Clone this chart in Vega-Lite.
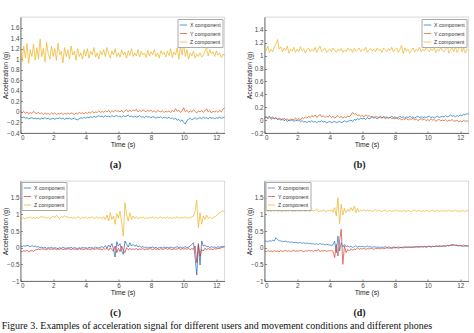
{
"$schema":"https://vega.github.io/schema/vega-lite/v6.json",
"background":"white",
"padding":{"left":1.5,"top":16,"right":2,"bottom":0},
"title":{"text":"Figure 3. Examples of acceleration signal for different users and movement conditions and different phones","orient":"bottom","anchor":"start","font":"Liberation Serif","fontSize":10,"fontWeight":"normal","color":"#111","offset":3,"frame":"bounds"},
"config":{
"font":"Liberation Sans",
"view":{"stroke":"#bdbdbd","strokeWidth":0.6},
"axis":{"labelFontSize":6.3,"labelColor":"#4a4a4a","titleFontSize":6.8,"titleColor":"#222","titleFontWeight":"normal","domainColor":"#444","domainWidth":0.7,"tickColor":"#444","tickSize":-2,"tickWidth":0.6,"grid":false},
"axisX":{"labelPadding":3.5,"titlePadding":1},
"axisY":{"labelPadding":3.5,"titlePadding":1.5,"minExtent":11,"maxExtent":11},
"legend":{"orient":"top-right","offset":2,"title":null,"symbolType":"stroke","symbolSize":55,"symbolStrokeWidth":0.8,"labelFontSize":5.2,"labelColor":"#333","rowPadding":0.5,"padding":1.5,"strokeColor":"#aaa","fillColor":"white","labelOffset":2,"labelLimit":100},
"line":{"strokeWidth":0.7},
"title":{"orient":"bottom","font":"Liberation Serif","fontSize":10,"fontWeight":"bold","color":"#222","offset":11}
},
"columns":2,
"spacing":{"row":48,"column":40},
"bounds":"flush",
"resolve":{"scale":{"color":"independent","x":"independent","y":"independent"},"legend":{"color":"independent"}},
"datasets":{
"a":[
{"t":0,"x":-0.09,"y":0.02,"z":1.15},{"t":0.1,"x":-0.11,"y":-0.02,"z":0.95},{"t":0.2,"x":-0.1,"y":0.01,"z":1.25},{"t":0.3,"x":-0.12,"y":-0.03,"z":1.02},{"t":0.4,"x":-0.11,"y":0,"z":1.3},{"t":0.5,"x":-0.13,"y":-0.04,"z":0.92},{"t":0.6,"x":-0.12,"y":-0.01,"z":1.18},{"t":0.7,"x":-0.11,"y":-0.03,"z":1.05},{"t":0.8,"x":-0.13,"y":0.01,"z":1.28},{"t":0.9,"x":-0.12,"y":-0.02,"z":0.98},
{"t":1,"x":-0.13,"y":-0.03,"z":1.22},{"t":1.1,"x":-0.12,"y":-0.01,"z":1.0},{"t":1.2,"x":-0.14,"y":-0.04,"z":1.38},{"t":1.3,"x":-0.12,"y":-0.02,"z":1.05},{"t":1.4,"x":-0.13,"y":-0.05,"z":1.2},{"t":1.5,"x":-0.11,"y":-0.02,"z":0.95},{"t":1.6,"x":-0.13,"y":-0.04,"z":1.32},{"t":1.7,"x":-0.12,"y":-0.03,"z":1.1},{"t":1.8,"x":-0.14,"y":-0.05,"z":1.0},{"t":1.9,"x":-0.13,"y":-0.02,"z":1.25},
{"t":2,"x":-0.12,"y":-0.04,"z":1.05},{"t":2.1,"x":-0.14,"y":-0.02,"z":1.2},{"t":2.2,"x":-0.12,"y":-0.05,"z":0.98},{"t":2.3,"x":-0.13,"y":-0.03,"z":1.3},{"t":2.4,"x":-0.11,"y":-0.04,"z":1.08},{"t":2.5,"x":-0.13,"y":-0.02,"z":1.15},{"t":2.6,"x":-0.12,"y":-0.05,"z":0.93},{"t":2.7,"x":-0.14,"y":-0.03,"z":1.22},{"t":2.8,"x":-0.12,"y":-0.04,"z":1.05},{"t":2.9,"x":-0.13,"y":-0.02,"z":1.18},
{"t":3,"x":-0.12,"y":-0.04,"z":1.0},{"t":3.1,"x":-0.14,"y":-0.02,"z":1.25},{"t":3.2,"x":-0.13,"y":-0.03,"z":1.08},{"t":3.3,"x":-0.12,"y":-0.05,"z":1.15},{"t":3.4,"x":-0.14,"y":-0.02,"z":0.98},{"t":3.5,"x":-0.15,"y":-0.04,"z":1.2},{"t":3.6,"x":-0.13,"y":-0.01,"z":1.05},{"t":3.7,"x":-0.11,"y":-0.03,"z":1.12},{"t":3.8,"x":-0.12,"y":-0.02,"z":1.0},{"t":3.9,"x":-0.1,"y":-0.04,"z":1.18},
{"t":4,"x":-0.12,"y":-0.01,"z":1.06},{"t":4.1,"x":-0.1,"y":-0.03,"z":1.2},{"t":4.2,"x":-0.11,"y":0,"z":1.02},{"t":4.3,"x":-0.09,"y":-0.02,"z":1.15},{"t":4.4,"x":-0.11,"y":0.01,"z":1.08},{"t":4.5,"x":-0.08,"y":-0.02,"z":1.22},{"t":4.6,"x":-0.1,"y":0,"z":1.04},{"t":4.7,"x":-0.09,"y":-0.01,"z":1.12},{"t":4.8,"x":-0.07,"y":0.02,"z":1.0},{"t":4.9,"x":-0.09,"y":-0.01,"z":1.16},
{"t":5,"x":-0.08,"y":0.01,"z":1.08},{"t":5.1,"x":-0.1,"y":-0.01,"z":1.18},{"t":5.2,"x":-0.07,"y":0.02,"z":1.05},{"t":5.3,"x":-0.09,"y":0,"z":1.22},{"t":5.4,"x":-0.08,"y":0.03,"z":1.1},{"t":5.5,"x":-0.1,"y":-0.01,"z":1.02},{"t":5.6,"x":-0.07,"y":0.02,"z":1.15},{"t":5.7,"x":-0.09,"y":0,"z":1.08},{"t":5.8,"x":-0.08,"y":0.03,"z":1.2},{"t":5.9,"x":-0.07,"y":0.01,"z":1.05},
{"t":6,"x":-0.09,"y":0.02,"z":1.12},{"t":6.1,"x":-0.08,"y":0,"z":1.04},{"t":6.2,"x":-0.1,"y":0.03,"z":1.18},{"t":6.3,"x":-0.07,"y":-0.01,"z":1.08},{"t":6.4,"x":-0.09,"y":0.02,"z":1.14},{"t":6.5,"x":-0.08,"y":0.04,"z":1.02},{"t":6.6,"x":-0.06,"y":0,"z":1.16},{"t":6.7,"x":-0.09,"y":0.03,"z":1.07},{"t":6.8,"x":-0.08,"y":0.01,"z":1.2},{"t":6.9,"x":-0.1,"y":0.04,"z":1.05},
{"t":7,"x":-0.08,"y":0.02,"z":1.12},{"t":7.1,"x":-0.1,"y":0.05,"z":1.06},{"t":7.2,"x":-0.09,"y":0,"z":1.18},{"t":7.3,"x":-0.07,"y":0.03,"z":1.04},{"t":7.4,"x":-0.1,"y":0.01,"z":1.15},{"t":7.5,"x":-0.09,"y":0.04,"z":1.08},{"t":7.6,"x":-0.11,"y":0.02,"z":1.12},{"t":7.7,"x":-0.08,"y":0,"z":1.03},{"t":7.8,"x":-0.1,"y":0.03,"z":1.17},{"t":7.9,"x":-0.09,"y":0.01,"z":1.06},
{"t":8,"x":-0.11,"y":0.03,"z":1.14},{"t":8.1,"x":-0.09,"y":0,"z":1.08},{"t":8.2,"x":-0.1,"y":0.02,"z":1.18},{"t":8.3,"x":-0.12,"y":-0.01,"z":1.05},{"t":8.4,"x":-0.1,"y":0.03,"z":1.12},{"t":8.5,"x":-0.11,"y":0.01,"z":1.02},{"t":8.6,"x":-0.09,"y":0,"z":1.16},{"t":8.7,"x":-0.12,"y":0.02,"z":1.09},{"t":8.8,"x":-0.1,"y":-0.01,"z":1.13},{"t":8.9,"x":-0.11,"y":0.01,"z":1.04},
{"t":9,"x":-0.12,"y":0,"z":1.15},{"t":9.1,"x":-0.1,"y":0.02,"z":1.07},{"t":9.2,"x":-0.13,"y":-0.01,"z":1.2},{"t":9.3,"x":-0.11,"y":0.03,"z":1.03},{"t":9.4,"x":-0.14,"y":0,"z":1.14},{"t":9.5,"x":-0.12,"y":0.06,"z":1.08},{"t":9.6,"x":-0.16,"y":0.01,"z":1.22},{"t":9.7,"x":-0.14,"y":0.03,"z":1.0},{"t":9.8,"x":-0.18,"y":-0.01,"z":1.25},{"t":9.9,"x":-0.15,"y":0.02,"z":1.08},
{"t":10,"x":-0.2,"y":0.08,"z":1.28},{"t":10.1,"x":-0.23,"y":0,"z":1.05},{"t":10.2,"x":-0.16,"y":0.03,"z":1.18},{"t":10.3,"x":-0.14,"y":-0.01,"z":1.0},{"t":10.4,"x":-0.12,"y":0.02,"z":1.12},{"t":10.5,"x":-0.15,"y":0,"z":1.06},{"t":10.6,"x":-0.13,"y":0.04,"z":1.15},{"t":10.7,"x":-0.11,"y":0.01,"z":1.02},{"t":10.8,"x":-0.14,"y":-0.02,"z":1.1},{"t":10.9,"x":-0.12,"y":0.02,"z":1.05},
{"t":11,"x":-0.11,"y":0,"z":1.12},{"t":11.1,"x":-0.13,"y":0.03,"z":1.04},{"t":11.2,"x":-0.1,"y":-0.01,"z":1.08},{"t":11.3,"x":-0.12,"y":0.02,"z":1.15},{"t":11.4,"x":-0.11,"y":0.06,"z":1.22},{"t":11.5,"x":-0.13,"y":0,"z":1.06},{"t":11.6,"x":-0.1,"y":0.03,"z":1.18},{"t":11.7,"x":-0.12,"y":-0.02,"z":1.1},{"t":11.8,"x":-0.11,"y":0.01,"z":1.14},{"t":11.9,"x":-0.13,"y":0,"z":1.05},
{"t":12,"x":-0.11,"y":0.02,"z":1.16},{"t":12.1,"x":-0.12,"y":-0.01,"z":1.08},{"t":12.2,"x":-0.1,"y":0.03,"z":1.12},{"t":12.3,"x":-0.12,"y":0,"z":1.03},{"t":12.4,"x":-0.11,"y":0.05,"z":1.1},{"t":12.5,"x":-0.1,"y":0.08,"z":1.06}
],
"b":[
{"t":0,"x":0.03,"y":0.03,"z":1.12},{"t":0.1,"x":0.05,"y":0.05,"z":1.08},{"t":0.2,"x":0.04,"y":0.02,"z":1.15},{"t":0.3,"x":0.06,"y":0.04,"z":1.05},{"t":0.4,"x":0.03,"y":0.01,"z":1.1},{"t":0.5,"x":0.05,"y":0.03,"z":1.06},{"t":0.6,"x":0.02,"y":0.02,"z":1.13},{"t":0.7,"x":0.04,"y":0.04,"z":1.18},{"t":0.8,"x":0.01,"y":0.01,"z":1.25},{"t":0.9,"x":0.02,"y":0.03,"z":1.1},
{"t":1,"x":0,"y":0.02,"z":1.14},{"t":1.1,"x":0.02,"y":0,"z":1.06},{"t":1.2,"x":-0.01,"y":0.03,"z":1.12},{"t":1.3,"x":0.01,"y":0.01,"z":1.08},{"t":1.4,"x":-0.02,"y":0.02,"z":1.15},{"t":1.5,"x":0,"y":-0.01,"z":1.04},{"t":1.6,"x":-0.01,"y":0.02,"z":1.1},{"t":1.7,"x":0.01,"y":0,"z":1.07},{"t":1.8,"x":-0.02,"y":0.01,"z":1.13},{"t":1.9,"x":0,"y":0.03,"z":1.05},
{"t":2,"x":-0.01,"y":0.01,"z":1.1},{"t":2.1,"x":0,"y":0.03,"z":1.06},{"t":2.2,"x":-0.02,"y":0,"z":1.14},{"t":2.3,"x":-0.01,"y":0.04,"z":1.08},{"t":2.4,"x":-0.03,"y":0.02,"z":1.11},{"t":2.5,"x":-0.02,"y":0.05,"z":1.04},{"t":2.6,"x":-0.04,"y":0.03,"z":1.09},{"t":2.7,"x":-0.02,"y":0.06,"z":1.12},{"t":2.8,"x":-0.03,"y":0.04,"z":1.06},{"t":2.9,"x":-0.01,"y":0.07,"z":1.1},
{"t":3,"x":-0.03,"y":0.05,"z":1.07},{"t":3.1,"x":-0.02,"y":0.08,"z":1.13},{"t":3.2,"x":-0.04,"y":0.04,"z":1.05},{"t":3.3,"x":-0.02,"y":0.06,"z":1.1},{"t":3.4,"x":-0.03,"y":0.09,"z":1.15},{"t":3.5,"x":-0.01,"y":0.05,"z":1.06},{"t":3.6,"x":-0.03,"y":0.07,"z":1.09},{"t":3.7,"x":-0.02,"y":0.04,"z":1.12},{"t":3.8,"x":-0.04,"y":0.06,"z":1.05},{"t":3.9,"x":-0.03,"y":0.05,"z":1.08},
{"t":4,"x":-0.02,"y":0.07,"z":1.1},{"t":4.1,"x":-0.04,"y":0.04,"z":1.06},{"t":4.2,"x":-0.03,"y":0.06,"z":1.12},{"t":4.3,"x":-0.02,"y":0.03,"z":1.08},{"t":4.4,"x":-0.04,"y":0.05,"z":1.05},{"t":4.5,"x":-0.03,"y":0.07,"z":1.1},{"t":4.6,"x":-0.02,"y":0.04,"z":1.07},{"t":4.7,"x":-0.04,"y":0.06,"z":1.11},{"t":4.8,"x":-0.03,"y":0.03,"z":1.05},{"t":4.9,"x":-0.01,"y":0.05,"z":1.09},
{"t":5,"x":-0.03,"y":0.04,"z":1.06},{"t":5.1,"x":-0.02,"y":0.06,"z":1.12},{"t":5.2,"x":-0.01,"y":0.05,"z":1.08},{"t":5.3,"x":0,"y":0.08,"z":1.1},{"t":5.4,"x":-0.02,"y":0.12,"z":1.05},{"t":5.5,"x":0.01,"y":0.09,"z":1.11},{"t":5.6,"x":0,"y":0.1,"z":1.07},{"t":5.7,"x":0.02,"y":0.07,"z":1.09},{"t":5.8,"x":0.01,"y":0.08,"z":1.12},{"t":5.9,"x":0.03,"y":0.06,"z":1.06},
{"t":6,"x":0.02,"y":0.07,"z":1.1},{"t":6.1,"x":0.03,"y":0.05,"z":1.08},{"t":6.2,"x":0.01,"y":0.08,"z":1.13},{"t":6.3,"x":0.04,"y":0.06,"z":1.05},{"t":6.4,"x":0.02,"y":0.07,"z":1.09},{"t":6.5,"x":0.03,"y":0.05,"z":1.11},{"t":6.6,"x":0.05,"y":0.06,"z":1.07},{"t":6.7,"x":0.03,"y":0.04,"z":1.1},{"t":6.8,"x":0.04,"y":0.06,"z":1.06},{"t":6.9,"x":0.02,"y":0.05,"z":1.12},
{"t":7,"x":0.04,"y":0.04,"z":1.08},{"t":7.1,"x":0.05,"y":0.06,"z":1.1},{"t":7.2,"x":0.03,"y":0.03,"z":1.05},{"t":7.3,"x":0.06,"y":0.05,"z":1.12},{"t":7.4,"x":0.04,"y":0.02,"z":1.09},{"t":7.5,"x":0.05,"y":0.04,"z":1.06},{"t":7.6,"x":0.03,"y":0.03,"z":1.11},{"t":7.7,"x":0.04,"y":0.05,"z":1.08},{"t":7.8,"x":0.06,"y":0.02,"z":1.13},{"t":7.9,"x":0.04,"y":0.03,"z":1.06},
{"t":8,"x":0.05,"y":0.02,"z":1.09},{"t":8.1,"x":0.03,"y":0.04,"z":1.12},{"t":8.2,"x":0.04,"y":0.01,"z":1.05},{"t":8.3,"x":0.06,"y":0.03,"z":1.1},{"t":8.4,"x":0.04,"y":0,"z":1.16},{"t":8.5,"x":0.05,"y":0.02,"z":1.03},{"t":8.6,"x":0.03,"y":0.01,"z":1.12},{"t":8.7,"x":0.05,"y":0.03,"z":1.07},{"t":8.8,"x":0.04,"y":0,"z":1.1},{"t":8.9,"x":0.06,"y":0.02,"z":1.04},
{"t":9,"x":0.04,"y":0.01,"z":1.08},{"t":9.1,"x":0.05,"y":0.03,"z":1.12},{"t":9.2,"x":0.03,"y":0,"z":1.06},{"t":9.3,"x":0.05,"y":0.02,"z":1.1},{"t":9.4,"x":0.06,"y":-0.01,"z":1.08},{"t":9.5,"x":0.04,"y":0.01,"z":1.13},{"t":9.6,"x":0.05,"y":0.02,"z":1.06},{"t":9.7,"x":0.03,"y":0,"z":1.1},{"t":9.8,"x":0.05,"y":0.02,"z":1.07},{"t":9.9,"x":0.04,"y":-0.01,"z":1.12},
{"t":10,"x":0.05,"y":0.01,"z":1.09},{"t":10.1,"x":0.06,"y":-0.01,"z":1.06},{"t":10.2,"x":0.04,"y":0.02,"z":1.11},{"t":10.3,"x":0.05,"y":0,"z":1.08},{"t":10.4,"x":0.03,"y":0.01,"z":1.12},{"t":10.5,"x":0.05,"y":-0.02,"z":1.05},{"t":10.6,"x":0.06,"y":0,"z":1.1},{"t":10.7,"x":0.04,"y":0.01,"z":1.07},{"t":10.8,"x":0.05,"y":-0.01,"z":1.13},{"t":10.9,"x":0.06,"y":0,"z":1.08},
{"t":11,"x":0.05,"y":-0.01,"z":1.06},{"t":11.1,"x":0.07,"y":0.01,"z":1.1},{"t":11.2,"x":0.05,"y":-0.02,"z":1.15},{"t":11.3,"x":0.06,"y":0,"z":1.04},{"t":11.4,"x":0.08,"y":-0.01,"z":1.09},{"t":11.5,"x":0.06,"y":0.01,"z":1.12},{"t":11.6,"x":0.07,"y":-0.02,"z":1.06},{"t":11.7,"x":0.05,"y":-0.01,"z":1.14},{"t":11.8,"x":0.07,"y":0,"z":1.05},{"t":11.9,"x":0.06,"y":-0.03,"z":1.1},
{"t":12,"x":0.08,"y":-0.01,"z":1.16},{"t":12.1,"x":0.07,"y":-0.03,"z":1.06},{"t":12.2,"x":0.09,"y":0,"z":1.12},{"t":12.3,"x":0.08,"y":-0.02,"z":1.04},{"t":12.4,"x":0.1,"y":-0.01,"z":1.1},{"t":12.5,"x":0.09,"y":-0.02,"z":1.08}
],
"c":[
{"t":0,"x":0.05,"y":-0.1,"z":0.92},{"t":0.1,"x":0.03,"y":-0.12,"z":0.88},{"t":0.2,"x":0.06,"y":-0.09,"z":0.9},{"t":0.3,"x":0.04,"y":-0.11,"z":0.86},{"t":0.4,"x":0.07,"y":-0.08,"z":0.91},{"t":0.5,"x":0.05,"y":-0.12,"z":0.89},{"t":0.6,"x":0.03,"y":-0.1,"z":0.93},{"t":0.7,"x":0.06,"y":-0.09,"z":0.87},{"t":0.8,"x":0.04,"y":-0.11,"z":0.9},{"t":0.9,"x":0.05,"y":-0.07,"z":0.88},
{"t":1,"x":0.02,"y":-0.06,"z":0.91},{"t":1.1,"x":0.03,"y":-0.04,"z":0.87},{"t":1.2,"x":0,"y":-0.06,"z":0.92},{"t":1.3,"x":0.02,"y":-0.03,"z":0.95},{"t":1.4,"x":-0.01,"y":-0.05,"z":0.89},{"t":1.5,"x":0.01,"y":-0.04,"z":0.93},{"t":1.6,"x":-0.02,"y":-0.06,"z":0.88},{"t":1.7,"x":0,"y":-0.03,"z":0.91},{"t":1.8,"x":-0.01,"y":-0.05,"z":0.86},{"t":1.9,"x":0.01,"y":-0.04,"z":0.9},
{"t":2,"x":-0.02,"y":-0.05,"z":0.95},{"t":2.1,"x":0,"y":-0.03,"z":0.9},{"t":2.2,"x":-0.01,"y":-0.06,"z":0.97},{"t":2.3,"x":-0.03,"y":-0.04,"z":0.92},{"t":2.4,"x":0,"y":-0.05,"z":0.88},{"t":2.5,"x":-0.02,"y":-0.03,"z":0.94},{"t":2.6,"x":0.01,"y":-0.06,"z":0.9},{"t":2.7,"x":-0.01,"y":-0.04,"z":0.96},{"t":2.8,"x":-0.02,"y":-0.05,"z":0.91},{"t":2.9,"x":0,"y":-0.03,"z":0.93},
{"t":3,"x":-0.01,"y":-0.04,"z":0.89},{"t":3.1,"x":0.01,"y":-0.06,"z":0.92},{"t":3.2,"x":-0.02,"y":-0.03,"z":0.87},{"t":3.3,"x":0,"y":-0.05,"z":0.91},{"t":3.4,"x":-0.01,"y":-0.04,"z":0.88},{"t":3.5,"x":-0.03,"y":-0.06,"z":0.93},{"t":3.6,"x":0,"y":-0.03,"z":0.9},{"t":3.7,"x":-0.02,"y":-0.05,"z":0.87},{"t":3.8,"x":0.01,"y":-0.04,"z":0.91},{"t":3.9,"x":-0.01,"y":-0.06,"z":0.89},
{"t":4,"x":0,"y":-0.03,"z":0.92},{"t":4.1,"x":-0.02,"y":-0.05,"z":0.88},{"t":4.2,"x":0.01,"y":-0.04,"z":0.91},{"t":4.3,"x":-0.01,"y":-0.06,"z":0.89},{"t":4.4,"x":0,"y":-0.03,"z":0.93},{"t":4.5,"x":-0.02,"y":-0.05,"z":0.87},{"t":4.6,"x":0.02,"y":-0.04,"z":0.9},{"t":4.7,"x":0,"y":-0.03,"z":0.92},{"t":4.8,"x":-0.01,"y":-0.05,"z":0.88},{"t":4.9,"x":0.01,"y":-0.04,"z":0.91},
{"t":5,"x":0.03,"y":-0.06,"z":0.87},{"t":5.1,"x":0,"y":-0.03,"z":0.93},{"t":5.2,"x":0.06,"y":-0.05,"z":0.84},{"t":5.3,"x":-0.02,"y":-0.02,"z":0.98},{"t":5.4,"x":0.08,"y":-0.08,"z":0.8},{"t":5.5,"x":0.02,"y":0,"z":1.05},{"t":5.6,"x":0.12,"y":-0.06,"z":0.85},{"t":5.7,"x":-0.05,"y":-0.1,"z":0.95},{"t":5.8,"x":-0.28,"y":0.05,"z":0.7},{"t":5.9,"x":0.18,"y":-0.15,"z":1.02},
{"t":6,"x":0.05,"y":-0.02,"z":0.88},{"t":6.1,"x":0.12,"y":-0.12,"z":1.1},{"t":6.2,"x":-0.1,"y":0.05,"z":0.75},{"t":6.3,"x":-0.2,"y":-0.08,"z":0.35},{"t":6.4,"x":0.2,"y":-0.15,"z":1.35},{"t":6.5,"x":0.1,"y":0,"z":1.0},{"t":6.6,"x":0.02,"y":-0.06,"z":0.8},{"t":6.7,"x":0.15,"y":-0.03,"z":1.05},{"t":6.8,"x":0.05,"y":-0.05,"z":0.85},{"t":6.9,"x":0.1,"y":-0.04,"z":0.95},
{"t":7,"x":0.04,"y":-0.05,"z":0.88},{"t":7.1,"x":0.08,"y":-0.03,"z":0.93},{"t":7.2,"x":0.02,"y":-0.06,"z":0.87},{"t":7.3,"x":0.05,"y":-0.04,"z":0.91},{"t":7.4,"x":0.01,"y":-0.05,"z":0.89},{"t":7.5,"x":0.03,"y":-0.03,"z":0.92},{"t":7.6,"x":0,"y":-0.06,"z":0.88},{"t":7.7,"x":0.02,"y":-0.04,"z":0.9},{"t":7.8,"x":-0.01,"y":-0.05,"z":0.87},{"t":7.9,"x":0.01,"y":-0.03,"z":0.91},
{"t":8,"x":0,"y":-0.04,"z":0.89},{"t":8.1,"x":0.02,"y":-0.06,"z":0.92},{"t":8.2,"x":-0.01,"y":-0.03,"z":0.88},{"t":8.3,"x":0.01,"y":-0.05,"z":0.91},{"t":8.4,"x":-0.02,"y":-0.04,"z":0.87},{"t":8.5,"x":0,"y":-0.06,"z":0.9},{"t":8.6,"x":0.01,"y":-0.03,"z":0.92},{"t":8.7,"x":-0.01,"y":-0.05,"z":0.88},{"t":8.8,"x":0.02,"y":-0.04,"z":0.91},{"t":8.9,"x":0,"y":-0.02,"z":0.89},
{"t":9,"x":0.01,"y":-0.05,"z":0.92},{"t":9.1,"x":-0.01,"y":-0.03,"z":0.88},{"t":9.2,"x":0.02,"y":-0.04,"z":0.9},{"t":9.3,"x":0,"y":-0.06,"z":0.87},{"t":9.4,"x":-0.01,"y":-0.03,"z":0.91},{"t":9.5,"x":0.01,"y":-0.05,"z":0.89},{"t":9.6,"x":0.03,"y":-0.04,"z":0.93},{"t":9.7,"x":0,"y":-0.02,"z":0.88},{"t":9.8,"x":0.02,"y":-0.05,"z":0.91},{"t":9.9,"x":-0.01,"y":-0.03,"z":0.89},
{"t":10,"x":0.01,"y":-0.04,"z":0.9},{"t":10.1,"x":0.03,"y":-0.03,"z":0.92},{"t":10.2,"x":0,"y":-0.05,"z":0.88},{"t":10.3,"x":0.02,"y":-0.02,"z":0.91},{"t":10.4,"x":0.05,"y":-0.06,"z":0.89},{"t":10.5,"x":0.1,"y":-0.03,"z":0.93},{"t":10.6,"x":0.15,"y":-0.05,"z":0.95},{"t":10.7,"x":-0.3,"y":0.05,"z":1.1},{"t":10.8,"x":-0.82,"y":-0.45,"z":1.42},{"t":10.9,"x":0.1,"y":0.12,"z":0.6},
{"t":11,"x":-0.52,"y":-0.25,"z":1.05},{"t":11.1,"x":0.2,"y":-0.05,"z":0.7},{"t":11.2,"x":0.05,"y":-0.1,"z":0.95},{"t":11.3,"x":0.08,"y":-0.02,"z":0.85},{"t":11.4,"x":0.02,"y":-0.06,"z":0.98},{"t":11.5,"x":0.04,"y":-0.03,"z":0.88},{"t":11.6,"x":0,"y":-0.05,"z":0.92},{"t":11.7,"x":0.03,"y":-0.04,"z":0.87},{"t":11.8,"x":0.01,"y":-0.06,"z":0.9},{"t":11.9,"x":0.02,"y":-0.03,"z":0.93},
{"t":12,"x":0,"y":-0.04,"z":0.95},{"t":12.1,"x":0.03,"y":-0.02,"z":1.02},{"t":12.2,"x":0.01,"y":-0.03,"z":1.05},{"t":12.3,"x":0.04,"y":0,"z":1.08},{"t":12.4,"x":0.02,"y":0.02,"z":1.1},{"t":12.5,"x":0.03,"y":0.03,"z":1.09}
],
"d":[
{"t":0,"x":0.19,"y":-0.1,"z":1.1},{"t":0.1,"x":0.2,"y":-0.12,"z":1.12},{"t":0.2,"x":0.18,"y":-0.09,"z":1.09},{"t":0.3,"x":0.21,"y":-0.11,"z":1.11},{"t":0.4,"x":0.19,"y":-0.1,"z":1.08},{"t":0.5,"x":0.22,"y":-0.12,"z":1.12},{"t":0.6,"x":0.2,"y":-0.09,"z":1.1},{"t":0.7,"x":0.3,"y":-0.11,"z":1.13},{"t":0.8,"x":0.24,"y":-0.1,"z":1.09},{"t":0.9,"x":0.21,"y":-0.12,"z":1.11},
{"t":1,"x":0.2,"y":-0.09,"z":1.1},{"t":1.1,"x":0.19,"y":-0.11,"z":1.08},{"t":1.2,"x":0.18,"y":-0.1,"z":1.12},{"t":1.3,"x":0.2,"y":-0.08,"z":1.09},{"t":1.4,"x":0.17,"y":-0.11,"z":1.11},{"t":1.5,"x":0.18,"y":-0.09,"z":1.1},{"t":1.6,"x":0.16,"y":-0.12,"z":1.13},{"t":1.7,"x":0.17,"y":-0.1,"z":1.08},{"t":1.8,"x":0.15,"y":-0.08,"z":1.11},{"t":1.9,"x":0.16,"y":-0.11,"z":1.09},
{"t":2,"x":0.15,"y":-0.09,"z":1.12},{"t":2.1,"x":0.14,"y":-0.11,"z":1.09},{"t":2.2,"x":0.16,"y":-0.08,"z":1.11},{"t":2.3,"x":0.13,"y":-0.1,"z":1.1},{"t":2.4,"x":0.15,"y":-0.12,"z":1.14},{"t":2.5,"x":0.12,"y":-0.09,"z":1.08},{"t":2.6,"x":0.14,"y":-0.11,"z":1.12},{"t":2.7,"x":0.12,"y":-0.08,"z":1.1},{"t":2.8,"x":0.13,"y":-0.1,"z":1.09},{"t":2.9,"x":0.11,"y":-0.09,"z":1.13},
{"t":3,"x":0.12,"y":-0.11,"z":1.1},{"t":3.1,"x":0.1,"y":-0.08,"z":1.12},{"t":3.2,"x":0.12,"y":-0.1,"z":1.16},{"t":3.3,"x":0.09,"y":-0.05,"z":1.08},{"t":3.4,"x":0.13,"y":-0.12,"z":1.11},{"t":3.5,"x":0.1,"y":-0.09,"z":1.09},{"t":3.6,"x":0.11,"y":-0.1,"z":1.13},{"t":3.7,"x":0.08,"y":-0.08,"z":1.1},{"t":3.8,"x":0.1,"y":-0.11,"z":1.08},{"t":3.9,"x":0.09,"y":-0.09,"z":1.12},
{"t":4,"x":0.08,"y":-0.1,"z":1.1},{"t":4.1,"x":0.07,"y":-0.08,"z":1.14},{"t":4.2,"x":0.09,"y":-0.11,"z":1.06},{"t":4.3,"x":0.2,"y":-0.3,"z":1.2},{"t":4.4,"x":-0.15,"y":0.1,"z":0.95},{"t":4.5,"x":0.35,"y":-0.25,"z":1.5},{"t":4.6,"x":-0.1,"y":0.2,"z":0.72},{"t":4.7,"x":0.15,"y":0.55,"z":1.3},{"t":4.8,"x":0.02,"y":-0.5,"z":0.98},{"t":4.9,"x":0.1,"y":0.05,"z":1.18},
{"t":5,"x":0.03,"y":-0.15,"z":1.05},{"t":5.1,"x":0.05,"y":-0.05,"z":1.15},{"t":5.2,"x":0.02,"y":-0.1,"z":1.08},{"t":5.3,"x":0.04,"y":-0.03,"z":1.2},{"t":5.4,"x":0.01,"y":-0.08,"z":1.1},{"t":5.5,"x":0.03,"y":-0.04,"z":1.25},{"t":5.6,"x":0.06,"y":-0.06,"z":1.05},{"t":5.7,"x":0.02,"y":0,"z":1.18},{"t":5.8,"x":0.04,"y":-0.05,"z":1.08},{"t":5.9,"x":0.03,"y":-0.03,"z":1.12},
{"t":6,"x":0.04,"y":-0.04,"z":1.1},{"t":6.1,"x":0.02,"y":-0.02,"z":1.15},{"t":6.2,"x":0.03,"y":-0.05,"z":1.09},{"t":6.3,"x":0.05,"y":-0.03,"z":1.13},{"t":6.4,"x":0.02,"y":-0.04,"z":1.1},{"t":6.5,"x":0.03,"y":-0.02,"z":1.12},{"t":6.6,"x":0.01,"y":-0.03,"z":1.08},{"t":6.7,"x":0.03,"y":-0.05,"z":1.11},{"t":6.8,"x":0.02,"y":-0.02,"z":1.14},{"t":6.9,"x":0.01,"y":-0.03,"z":1.09},
{"t":7,"x":0.02,"y":-0.02,"z":1.12},{"t":7.1,"x":0,"y":-0.04,"z":1.1},{"t":7.2,"x":0.02,"y":-0.01,"z":1.08},{"t":7.3,"x":0.01,"y":-0.03,"z":1.11},{"t":7.4,"x":0.03,"y":-0.02,"z":1.13},{"t":7.5,"x":0,"y":0,"z":1.09},{"t":7.6,"x":0.02,"y":-0.02,"z":1.1},{"t":7.7,"x":0.01,"y":-0.01,"z":1.12},{"t":7.8,"x":0,"y":-0.03,"z":1.08},{"t":7.9,"x":0.02,"y":0,"z":1.11},
{"t":8,"x":0.01,"y":-0.01,"z":1.1},{"t":8.1,"x":0,"y":0.01,"z":1.13},{"t":8.2,"x":0.02,"y":-0.02,"z":1.09},{"t":8.3,"x":0.01,"y":0,"z":1.11},{"t":8.4,"x":0,"y":0.01,"z":1.08},{"t":8.5,"x":0.02,"y":-0.01,"z":1.12},{"t":8.6,"x":0.01,"y":0.02,"z":1.1},{"t":8.7,"x":0.03,"y":0,"z":1.09},{"t":8.8,"x":0.01,"y":0.01,"z":1.12},{"t":8.9,"x":0.02,"y":0.02,"z":1.1},
{"t":9,"x":0.02,"y":0,"z":1.08},{"t":9.1,"x":0.01,"y":0.02,"z":1.11},{"t":9.2,"x":0.03,"y":0.01,"z":1.13},{"t":9.3,"x":0.02,"y":0.03,"z":1.09},{"t":9.4,"x":0.04,"y":0.01,"z":1.1},{"t":9.5,"x":0.02,"y":0.02,"z":1.12},{"t":9.6,"x":0.03,"y":0.04,"z":1.08},{"t":9.7,"x":0.02,"y":0.02,"z":1.11},{"t":9.8,"x":0.04,"y":0.03,"z":1.09},{"t":9.9,"x":0.03,"y":0.01,"z":1.12},
{"t":10,"x":0.03,"y":0.03,"z":1.1},{"t":10.1,"x":0.04,"y":0.05,"z":1.08},{"t":10.2,"x":0.02,"y":0.02,"z":1.11},{"t":10.3,"x":0.04,"y":0.04,"z":1.13},{"t":10.4,"x":0.03,"y":0.03,"z":1.09},{"t":10.5,"x":0.05,"y":0.05,"z":1.1},{"t":10.6,"x":0.04,"y":0.04,"z":1.12},{"t":10.7,"x":0.03,"y":0.06,"z":1.08},{"t":10.8,"x":0.05,"y":0.04,"z":1.11},{"t":10.9,"x":0.04,"y":0.05,"z":1.1},
{"t":11,"x":0.05,"y":0.06,"z":1.12},{"t":11.1,"x":0.04,"y":0.05,"z":1.09},{"t":11.2,"x":0.06,"y":0.07,"z":1.1},{"t":11.3,"x":0.05,"y":0.06,"z":1.13},{"t":11.4,"x":0.07,"y":0.08,"z":1.08},{"t":11.5,"x":0.06,"y":0.1,"z":1.11},{"t":11.6,"x":0.08,"y":0.09,"z":1.1},{"t":11.7,"x":0.06,"y":0.07,"z":1.12},{"t":11.8,"x":0.07,"y":0.08,"z":1.09},{"t":11.9,"x":0.05,"y":0.06,"z":1.11},
{"t":12,"x":0.06,"y":0.07,"z":1.08},{"t":12.1,"x":0.05,"y":0.05,"z":1.12},{"t":12.2,"x":0.04,"y":0.08,"z":1.1},{"t":12.3,"x":0.05,"y":0.06,"z":1.09},{"t":12.4,"x":0.04,"y":0.07,"z":1.11},{"t":12.5,"x":0.05,"y":0.05,"z":1.1}
]
},
"concat":[
{"data":{"name":"a"},"width":204,"height":116,"title":{"text":"(a)","dx":-7},
"transform":[{"fold":["x","y","z"],"as":["comp","g"]}],
"mark":{"type":"line","strokeWidth":0.7},
"encoding":{
"x":{"field":"t","type":"quantitative","scale":{"domain":[0,12.5],"nice":false},"axis":{"title":"Time (s)","values":[0,2,4,6,8,10,12]}},
"y":{"field":"g","type":"quantitative","scale":{"domain":[-0.4,1.8],"nice":false,"zero":false},"axis":{"title":"Acceleration (g)","values":[-0.4,-0.2,0,0.2,0.4,0.6,0.8,1,1.2,1.4,1.6],"format":"~g"}},
"color":{"field":"comp","type":"nominal","scale":{"domain":["x","y","z"],"range":["#0072BD","#D95319","#EDB120"]},"legend":{"orient":"top-right","labelExpr":"upper(datum.label) + ' component'"}}
}},
{"data":{"name":"b"},"width":204,"height":116,"title":{"text":"(b)","dx":-7},
"transform":[{"fold":["x","y","z"],"as":["comp","g"]}],
"mark":{"type":"line","strokeWidth":0.7},
"encoding":{
"x":{"field":"t","type":"quantitative","scale":{"domain":[0,12.5],"nice":false},"axis":{"title":"Time (s)","values":[0,2,4,6,8,10,12]}},
"y":{"field":"g","type":"quantitative","scale":{"domain":[-0.2,1.6],"nice":false,"zero":false},"axis":{"title":"Acceleration (g)","values":[-0.2,0,0.2,0.4,0.6,0.8,1,1.2,1.4],"format":"~g"}},
"color":{"field":"comp","type":"nominal","scale":{"domain":["x","y","z"],"range":["#0072BD","#D95319","#EDB120"]},"legend":{"orient":"top-right","labelExpr":"upper(datum.label) + ' component'"}}
}},
{"data":{"name":"c"},"width":204,"height":100,"title":{"text":"(c)","dx":-7},
"transform":[{"fold":["x","y","z"],"as":["comp","g"]}],
"mark":{"type":"line","strokeWidth":0.7},
"encoding":{
"x":{"field":"t","type":"quantitative","scale":{"domain":[0,12.5],"nice":false},"axis":{"title":"Time (s)","values":[0,2,4,6,8,10,12]}},
"y":{"field":"g","type":"quantitative","scale":{"domain":[-1,2],"nice":false,"zero":false},"axis":{"title":"Acceleration (g)","values":[-1,-0.5,0,0.5,1,1.5],"format":"~g"}},
"color":{"field":"comp","type":"nominal","scale":{"domain":["x","y","z"],"range":["#2a5db0","#c8302a","#EDB120"]},"legend":{"orient":"top-left","offset":1,"labelExpr":"upper(datum.label) + ' component'"}}
}},
{"data":{"name":"d"},"width":204,"height":100,"title":{"text":"(d)","dx":-7},
"transform":[{"fold":["x","y","z"],"as":["comp","g"]}],
"mark":{"type":"line","strokeWidth":0.7},
"encoding":{
"x":{"field":"t","type":"quantitative","scale":{"domain":[0,12.5],"nice":false},"axis":{"title":"Time (s)","values":[0,2,4,6,8,10,12]}},
"y":{"field":"g","type":"quantitative","scale":{"domain":[-1,2],"nice":false,"zero":false},"axis":{"title":"Acceleration (g)","values":[-1,-0.5,0,0.5,1,1.5],"format":"~g"}},
"color":{"field":"comp","type":"nominal","scale":{"domain":["x","y","z"],"range":["#2a72c0","#d5402a","#EDB120"]},"legend":{"orient":"top-left","offset":1,"labelExpr":"upper(datum.label) + ' component'"}}
}}
]
}
